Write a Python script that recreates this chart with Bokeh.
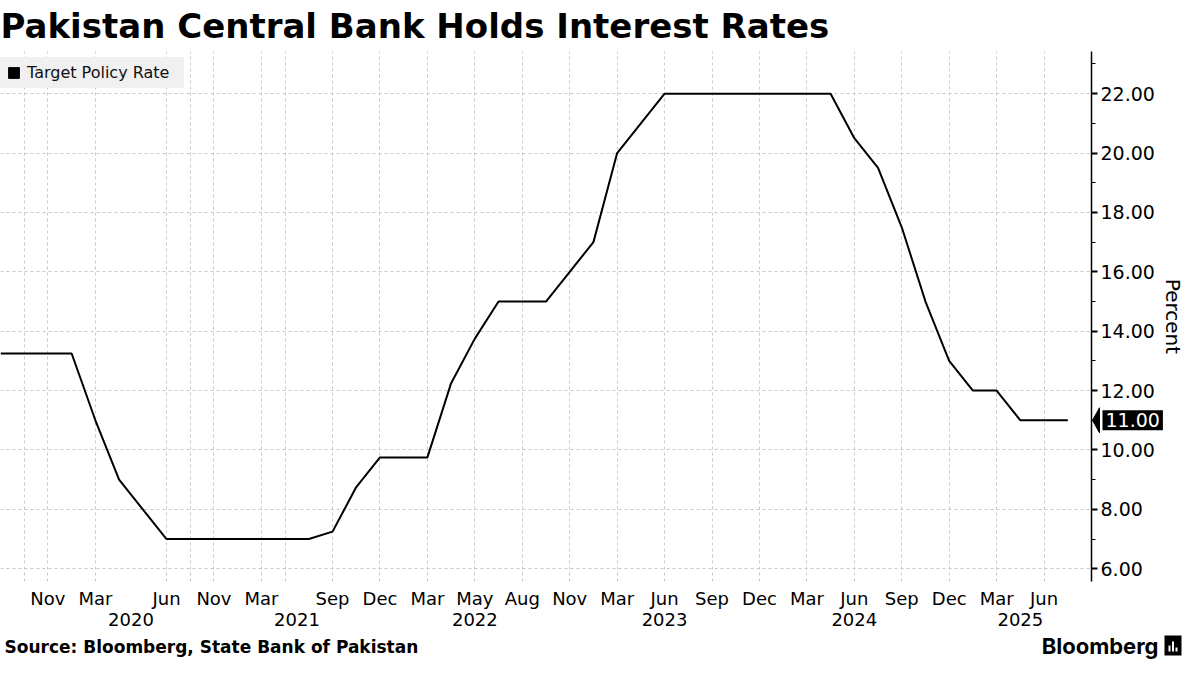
from bokeh.plotting import figure
from bokeh.models import (Range1d, FixedTicker, SingleIntervalTicker, LinearAxis, Label,
                          Legend, LegendItem, PrintfTickFormatter, ColumnDataSource,
                          PolyAnnotation, BoxAnnotation)
from bokeh.embed import file_html
from bokeh.resources import INLINE

# ---- data: SBP target policy rate at each policy observation (equally spaced) ----
rate = [13.25, 13.25, 13.25, 13.25, 11.0, 9.0, 8.0, 7.0, 7.0, 7.0,
        7.0, 7.0, 7.0, 7.0, 7.25, 8.75, 9.75, 9.75, 9.75, 12.25,
        13.75, 15.0, 15.0, 15.0, 16.0, 17.0, 20.0, 21.0, 22.0, 22.0,
        22.0, 22.0, 22.0, 22.0, 22.0, 22.0, 20.5, 19.5, 17.5, 15.0,
        13.0, 12.0, 12.0, 11.0, 11.0, 11.0]
obs = list(range(len(rate)))

tick_idx = [1, 2, 4, 7, 8, 9, 11, 12, 14, 16, 18, 20, 22, 24, 26, 28, 30, 32, 34, 36, 38, 40, 42, 44]
tick_labels = ["", "Nov", "Mar", "Jun", "", "Nov", "Mar", "", "Sep", "Dec", "Mar", "May",
               "Aug", "Nov", "Mar", "Jun", "Sep", "Dec", "Mar", "Jun", "Sep", "Dec", "Mar", "Jun"]
year_pos = [5.5, 12.5, 20, 28, 36, 43]
year_labels = ["2020", "2021", "2022", "2023", "2024", "2025"]

# ---- layout constants (pixels inside the figure) ----
FONT = "DejaVu Sans"
W, H = 1184, 659
AXIS_X = 46.0            # data x where the value axis stands
Y0, Y1 = 5.57, 23.42     # value-axis extent
AX_PX = 1091.0
TOP_PX, BOT_PX = 51.0, 581.0
XPU = AX_PX / AXIS_X
YPU = (BOT_PX - TOP_PX) / (Y1 - Y0)
x_end = W / XPU
y_top = Y1 + TOP_PX / YPU
y_bot = Y0 - (H - BOT_PX) / YPU


def fx(px):
    return px / XPU


def fy(px):
    return y_top - px / YPU


p = figure(width=W, height=H, output_backend="svg", toolbar_location=None,
           x_range=Range1d(0, x_end), y_range=Range1d(y_bot, y_top),
           y_axis_location="right", min_border_left=0, min_border_right=0,
           min_border_top=0, min_border_bottom=0)
p.outline_line_color = None
p.background_fill_color = "white"
p.border_fill_color = "white"

# grids
xt = FixedTicker(ticks=tick_idx)
yt = SingleIntervalTicker(interval=2, num_minor_ticks=2)
p.xgrid.ticker = xt
p.ygrid.ticker = yt
p.ygrid.bounds = (Y0, Y1)
p.grid.grid_line_color = "#c8c8c8"
p.grid.grid_line_dash = "3 3"
p.grid.grid_line_width = 1

# white covers so the grid stays inside the plotting area
for kw in (dict(left=AXIS_X), dict(top=Y0), dict(bottom=Y1)):
    p.add_layout(BoxAnnotation(fill_color="white", fill_alpha=1.0, line_color=None,
                               level="underlay", **kw))

# month axis
xa = p.xaxis[0]
xa.ticker = xt
xa.fixed_location = Y0
xa.major_label_overrides = dict(zip(tick_idx, tick_labels))
xa.axis_line_color = None
xa.major_tick_line_color = None
xa.minor_tick_line_color = None
xa.major_tick_out = 0
xa.major_tick_in = 0
xa.minor_tick_out = 0
xa.major_label_text_font = FONT
xa.major_label_text_font_size = "18px"
xa.major_label_text_color = "black"
xa.major_label_standoff = 6

# year axis
ya2 = LinearAxis(ticker=FixedTicker(ticks=year_pos), fixed_location=Y0,
                 major_label_overrides=dict(zip(year_pos, year_labels)))
ya2.axis_line_color = None
ya2.major_tick_line_color = None
ya2.minor_tick_line_color = None
ya2.major_tick_out = 0
ya2.major_tick_in = 0
ya2.minor_tick_out = 0
ya2.major_label_text_font = FONT
ya2.major_label_text_font_size = "18px"
ya2.major_label_text_color = "black"
ya2.major_label_standoff = 31
p.add_layout(ya2, "below")

# value axis
ya = p.yaxis[0]
ya.ticker = yt
ya.fixed_location = AXIS_X
ya.bounds = (Y0, Y1)
ya.formatter = PrintfTickFormatter(format="%.2f")
ya.axis_line_color = "black"
ya.axis_line_width = 1.5
ya.major_tick_out = 6
ya.major_tick_in = 0
ya.major_tick_line_width = 2
ya.minor_tick_out = 4
ya.minor_tick_in = 0
ya.minor_tick_line_width = 1
ya.major_label_text_font = FONT
ya.major_label_text_font_size = "19px"
ya.major_label_text_color = "black"
ya.major_label_standoff = 3
ya.axis_label = "Percent"
ya.axis_label_text_font = FONT
ya.axis_label_text_font_size = "20px"
ya.axis_label_text_font_style = "normal"
ya.axis_label_text_color = "black"
ya.axis_label_standoff = 3

src = ColumnDataSource(data=dict(x=obs, y=rate))
p.line("x", "y", source=src, line_color="black", line_width=2)

# legend
proxy = p.scatter(x=[float("nan")], y=[float("nan")], marker="square", color="black")
legend = Legend(items=[LegendItem(label="Target Policy Rate", renderers=[proxy])],
                location=(0, H - 88), margin=0, padding=3, spacing=0,
                glyph_width=27, glyph_height=27, label_standoff=0,
                label_height=31, label_width=157,
                background_fill_color="#f0f0f0", background_fill_alpha=1.0,
                border_line_color=None, label_text_font=FONT,
                label_text_font_size="16px", label_text_color="#111111")
p.add_layout(legend)

# title
p.add_layout(Label(x=fx(0), y=fy(25), text="Pakistan Central Bank Holds Interest Rates",
                   text_align="left", text_baseline="middle", text_font=FONT,
                   text_font_size="34px", text_font_style="bold", text_color="black"))

# last value tag
last = rate[-1]
tag = PolyAnnotation(xs=[AXIS_X + fx(1), AXIS_X + fx(8), AXIS_X + fx(8)],
                     ys=[last, last + 12.5 / YPU, last - 12.5 / YPU],
                     fill_color="black", fill_alpha=1.0, line_color="black", line_alpha=1.0)
p.add_layout(tag)
p.add_layout(Label(x=AXIS_X, y=last, text="%.2f" % last, x_offset=11, text_baseline="middle",
                   text_align="left", text_color="white", text_font=FONT, text_font_size="19px",
                   background_fill_color="black", background_fill_alpha=1.0, padding=3))

# footer
p.add_layout(Label(x=fx(4), y=fy(646), text="Source: Bloomberg, State Bank of Pakistan",
                   text_align="left", text_baseline="middle", text_font=FONT,
                   text_font_size="17px", text_font_style="bold", text_color="black"))
p.add_layout(Label(x=fx(1158), y=fy(645), text="Bloomberg", text_align="right",
                   text_baseline="middle", text_font="Inter", text_font_size="22px",
                   text_font_style="bold", text_color="black"))
p.add_layout(BoxAnnotation(left=fx(1164), right=fx(1181), top=fy(635), bottom=fy(655),
                           fill_color="black", fill_alpha=1.0, line_color=None))
for l, r, t in ((1168, 1170, 645), (1171.5, 1173.5, 641), (1175, 1177, 647)):
    p.add_layout(BoxAnnotation(left=fx(l), right=fx(r), top=fy(t), bottom=fy(651),
                               fill_color="white", fill_alpha=1.0, line_color=None))

open("out.html", "w").write(file_html(p, INLINE))
